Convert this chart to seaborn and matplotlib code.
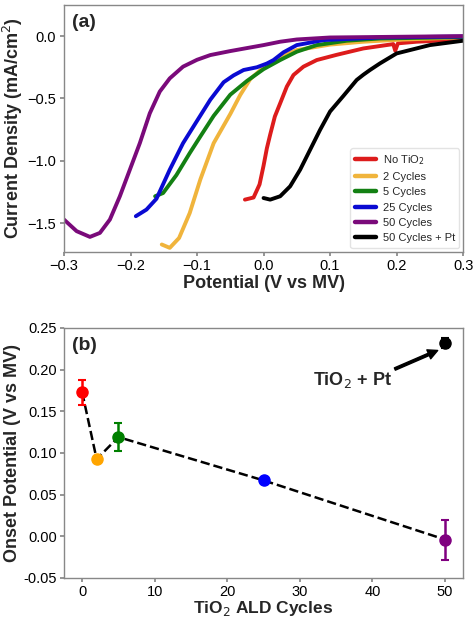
import matplotlib.pyplot as plt
import seaborn as sns
import numpy as np
import pandas as pd

#### data
# (a) linear sweep voltammetry, potential (V vs MV) / current density (mA/cm2)
no_tio2_v = [-0.028, -0.015, -0.006, 0.000, 0.005, 0.010, 0.017, 0.025, 0.035, 0.045,
             0.060, 0.080, 0.110, 0.150, 0.195, 0.198, 0.202, 0.230, 0.300]
no_tio2_j = [-1.312, -1.295, -1.190, -1.040, -0.900, -0.790, -0.645, -0.539, -0.405, -0.312,
             -0.245, -0.192, -0.150, -0.099, -0.064, -0.117, -0.058, -0.045, -0.027]

cyc2_v = [-0.153, -0.141, -0.127, -0.111, -0.095, -0.075, -0.050, -0.035, -0.020, 0.000,
          0.025, 0.050, 0.100, 0.150, 0.200, 0.300]
cyc2_j = [-1.672, -1.699, -1.620, -1.420, -1.150, -0.859, -0.625, -0.472, -0.345, -0.250,
          -0.165, -0.112, -0.068, -0.045, -0.030, -0.010]

cyc5_v = [-0.163, -0.151, -0.131, -0.111, -0.095, -0.075, -0.050, -0.025, 0.000, 0.025,
          0.050, 0.080, 0.125, 0.175, 0.300]
cyc5_j = [-1.285, -1.259, -1.115, -0.939, -0.805, -0.640, -0.470, -0.360, -0.265, -0.192,
          -0.125, -0.072, -0.037, -0.019, -0.008]

cyc25_v = [-0.192, -0.176, -0.161, -0.141, -0.121, -0.100, -0.080, -0.060, -0.045, -0.030,
           -0.010, 0.005, 0.015, 0.030, 0.050, 0.090, 0.175, 0.300]
cyc25_j = [-1.445, -1.392, -1.305, -1.072, -0.859, -0.680, -0.510, -0.370, -0.315, -0.272,
           -0.250, -0.220, -0.192, -0.130, -0.072, -0.032, -0.011, -0.003]

cyc50_v = [-0.300, -0.281, -0.261, -0.246, -0.231, -0.216, -0.201, -0.186, -0.171, -0.156,
           -0.141, -0.121, -0.100, -0.080, -0.050, 0.000, 0.025, 0.050, 0.100, 0.300]
cyc50_j = [-1.472, -1.565, -1.611, -1.579, -1.472, -1.285, -1.072, -0.859, -0.619, -0.445,
           -0.339, -0.245, -0.190, -0.152, -0.120, -0.072, -0.045, -0.027, -0.011, 0.000]

pt_v = [0.000, 0.010, 0.025, 0.040, 0.055, 0.070, 0.085, 0.100, 0.120, 0.140,
        0.150, 0.160, 0.175, 0.200, 0.250, 0.300]
pt_j = [-1.299, -1.312, -1.285, -1.205, -1.072, -0.912, -0.752, -0.605, -0.480, -0.352,
        -0.310, -0.272, -0.219, -0.139, -0.072, -0.037]

curve_names = ["No TiO$_2$", "2 Cycles", "5 Cycles", "25 Cycles", "50 Cycles", "50 Cycles + Pt"]
curve_colors = ["#dd1c1c", "#f0b43c", "#138013", "#0a0ad2", "#7a0a7a", "black"]

# (b) onset potential vs ALD cycles
ald_cycles = [0, 2, 5, 25, 50]
onset = [0.173, 0.0925, 0.119, 0.067, -0.004]
onset_err = [0.015, 0.002, 0.017, 0.002, 0.024]
point_colors = ["red", "orange", "green", "blue", "purple"]
pt_cycles = 50
pt_onset = 0.232
pt_err = 0.006

sns.set_theme(style="ticks")
plt.rcParams['font.family'] = ['Liberation Sans', 'DejaVu Sans']
plt.rcParams['axes.edgecolor'] = '#888888'
plt.rcParams['axes.linewidth'] = 1.0
plt.rcParams['xtick.color'] = '#888888'
plt.rcParams['ytick.color'] = '#888888'
plt.rcParams['xtick.labelcolor'] = 'black'
plt.rcParams['ytick.labelcolor'] = 'black'
plt.rcParams['axes.unicode_minus'] = True

fig = plt.figure(figsize=(4.74, 6.2), dpi=100)
ax1 = fig.add_axes([0.135, 0.594, 0.842, 0.398])
ax2 = fig.add_axes([0.135, 0.068, 0.842, 0.403])

#### panel (a)
curves = [(no_tio2_v, no_tio2_j), (cyc2_v, cyc2_j), (cyc5_v, cyc5_j),
          (cyc25_v, cyc25_j), (cyc50_v, cyc50_j), (pt_v, pt_j)]
frames = []
for name, (v, j) in zip(curve_names, curves):
    frames.append(pd.DataFrame({"V": v, "J": j, "sample": name}))
df = pd.concat(frames, ignore_index=True)

sns.lineplot(data=df, x="V", y="J", hue="sample", palette=curve_colors,
             hue_order=curve_names, sort=False, estimator=None, units="sample",
             lw=2.8, ax=ax1)
ax1.set_xlim(-0.3, 0.3)
ax1.set_ylim(-1.73, 0.25)
ax1.set_xticks([-0.3, -0.2, -0.1, 0.0, 0.1, 0.2, 0.3])
ax1.set_yticks([0.0, -0.5, -1.0, -1.5])
ax1.tick_params(labelsize=10.5, length=3, pad=2.5)
ax1.set_xlabel("Potential (V vs MV)", fontsize=13, fontweight='bold', labelpad=1)
ax1.set_ylabel("Current Density (mA/cm$^2$)", fontsize=13, fontweight='bold', labelpad=2)
ax1.text(0.02, 0.965, "(a)", transform=ax1.transAxes, fontsize=14, fontweight='bold',
         ha='left', va='top')
leg = ax1.legend(loc='lower right', fontsize=8, handlelength=1.9, labelspacing=0.48,
                 handletextpad=0.6, borderaxespad=0.35, frameon=True, edgecolor='#dddddd',
                 fancybox=True)
for line in leg.get_lines():
    line.set_linewidth(3.2)

#### panel (b)
sns.lineplot(x=ald_cycles, y=onset, color='black', linestyle='--', lw=1.8, ax=ax2,
             zorder=1)
for c, o, e, col in zip(ald_cycles, onset, onset_err, point_colors):
    ax2.errorbar(c, o, yerr=e, fmt='o', color=col, ms=8, capsize=3, elinewidth=1.8,
                 capthick=1.5, zorder=3)
ax2.errorbar(pt_cycles, pt_onset, yerr=pt_err, fmt='o', color='black', ms=8, capsize=3,
             elinewidth=1.8, capthick=1.5, zorder=3)
ax2.annotate("TiO$_2$ + Pt", xy=(49.0, 0.223), xytext=(37.2, 0.187),
             fontsize=13, fontweight='bold', ha='center', va='center',
             arrowprops=dict(facecolor='black', edgecolor='black', width=1.8,
                             headwidth=7, headlength=7, shrink=0.0))
ax2.set_xlim(-2.5, 52.5)
ax2.set_ylim(-0.05, 0.25)
ax2.set_xticks([0, 10, 20, 30, 40, 50])
ax2.set_yticks([-0.05, 0.0, 0.05, 0.10, 0.15, 0.20, 0.25])
ax2.yaxis.set_major_formatter(plt.FormatStrFormatter('%.2f'))
ax2.tick_params(labelsize=10.5, length=3, pad=2)
ax2.set_xlabel("TiO$_2$ ALD Cycles", fontsize=12.5, fontweight='bold', labelpad=0)
ax2.set_ylabel("Onset Potential (V vs MV)", fontsize=13, fontweight='bold', labelpad=2)
ax2.text(0.02, 0.965, "(b)", transform=ax2.transAxes, fontsize=14, fontweight='bold',
         ha='left', va='top')

plt.savefig("out.png", dpi=100)
